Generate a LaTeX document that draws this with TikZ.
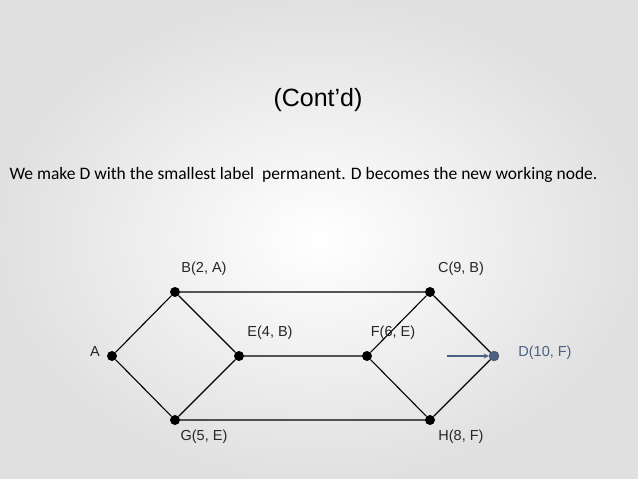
\documentclass[tikz,border=0pt]{standalone}
\usepackage{fontspec}
\setmainfont{Liberation Sans}
\newfontfamily\bodyfont{Carlito}
\definecolor{slate}{HTML}{4A6184}
\begin{document}
\begin{tikzpicture}[x=1pt,y=-1pt,
  dot/.style={circle,fill=black,inner sep=0pt,minimum size=10pt},
  lbl/.style={font=\fontsize{14.5}{17}\selectfont,text=black!85},
  edge/.style={draw=black,line width=1.1pt}]
\useasboundingbox (0,0) rectangle (638,479);
\shade[inner color=white,outer color=black!12] (0,0) rectangle (638,479);
\node[font=\fontsize{25}{30}\selectfont] (title) at (318,100) {(Cont’d)};
\node[anchor=north west,align=flush left,text width=600pt,font=\bodyfont\fontsize{17.5}{27}\selectfont] (body) at (6,164) {We make D with the smallest label\ \ permanent. D becomes the new working node.};
\node[dot] (A) at (112,356) {};
\node[dot] (B) at (175,292) {};
\node[dot] (E) at (239,356) {};
\node[dot] (F) at (367,356) {};
\node[dot] (C) at (430,292) {};
\node[dot] (G) at (175,420) {};
\node[dot] (H) at (430,420) {};
\node[circle,fill=slate,draw=black!70,inner sep=0pt,minimum size=10pt] (D) at (494,356) {};
\draw[edge] (A)--(B) (A)--(G) (B)--(E) (G)--(E) (B)--(C) (G)--(H) (E)--(F) (F)--(C) (F)--(H) (C)--(D) (H)--(D);
\coordinate (ar) at (447,356);
\draw[-stealth,line width=1.2pt,draw=slate] (ar)--(D);
\node[lbl] at (204,269) {B(2, A)};
\node[lbl] at (461,269) {C(9, B)};
\node[lbl] at (270,333) {E(4, B)};
\node[lbl] at (393,333) {F(6, E)};
\node[lbl] at (95,352) {A};
\node[lbl,text=slate] at (545,353) {D(10, F)};
\node[lbl] at (204,437) {G(5, E)};
\node[lbl] at (461,437) {H(8, F)};
\end{tikzpicture}
\end{document}
